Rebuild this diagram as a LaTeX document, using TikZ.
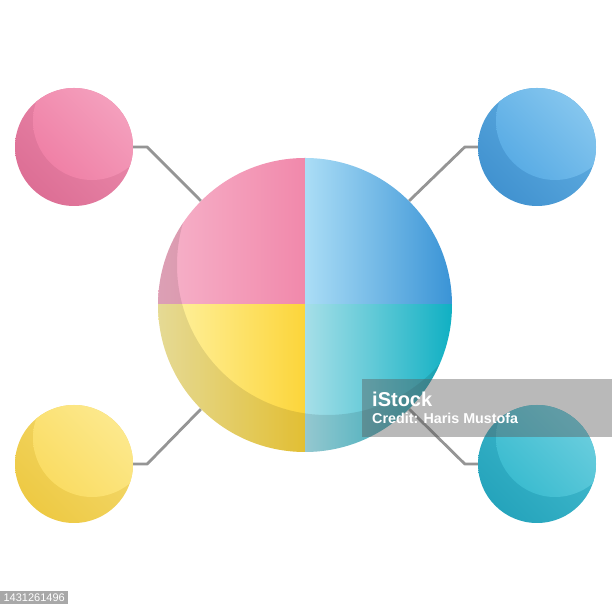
\documentclass[tikz,border=0pt]{standalone}
\usepackage{fontspec}
\setmainfont{Liberation Sans}
\usetikzlibrary{backgrounds,shadings}
\definecolor{pinkL}{HTML}{F6B3CA}
\definecolor{pinkR}{HTML}{EC5E8C}
\definecolor{blueL}{HTML}{ABDDF6}
\definecolor{blueR}{HTML}{3A94D6}
\definecolor{yelL}{HTML}{FFF3A6}
\definecolor{yelR}{HTML}{FCD53A}
\definecolor{tealL}{HTML}{A6DFE8}
\definecolor{tealR}{HTML}{10B0C3}
\definecolor{pSD}{HTML}{DA6890}\definecolor{pSL}{HTML}{EE93B2}
\definecolor{pID}{HTML}{EE78A0}\definecolor{pIL}{HTML}{F7B3CB}
\definecolor{bSD}{HTML}{3A8CCC}\definecolor{bSL}{HTML}{6BB6E6}
\definecolor{bID}{HTML}{4EA5E2}\definecolor{bIL}{HTML}{A0D6F4}
\definecolor{ySD}{HTML}{ECC63A}\definecolor{ySL}{HTML}{F5DD7A}
\definecolor{yID}{HTML}{F9D958}\definecolor{yIL}{HTML}{FEF0A6}
\definecolor{tSD}{HTML}{1E9FB8}\definecolor{tSL}{HTML}{4CC0D2}
\definecolor{tID}{HTML}{2FB7CC}\definecolor{tIL}{HTML}{86D8E6}
\definecolor{linkgray}{HTML}{959595}
\definecolor{idgray}{HTML}{A8A8A8}
\tikzset{
  ball/.style n args={4}{circle, inner sep=0pt, minimum size=118pt,
    path picture={
      \shade[lower left=#1, upper right=#2, upper left=#1!50!#2, lower right=#1!50!#2]
        (path picture bounding box.south west) rectangle (path picture bounding box.north east);
      \shade[lower left=#3, upper right=#4, upper left=#3!50!#4, lower right=#3!50!#4]
        ([shift={(18pt,26pt)}]path picture bounding box.center) circle (59pt);
    }},
  link/.style={draw=linkgray, line width=2.8pt, line join=round},
  wmtext/.style={anchor=base west, inner sep=0pt, text=white}
}
\begin{document}
\begin{tikzpicture}[x=1pt,y=1pt]
\useasboundingbox (0,0) rectangle (612,612);
% balls
\node[ball={pSD}{pSL}{pID}{pIL}] (pink) at (74,465) {};
\node[ball={bSD}{bSL}{bID}{bIL}] (blue) at (537,465) {};
\node[ball={ySD}{ySL}{yID}{yIL}] (yellow) at (74,148) {};
\node[ball={tSD}{tSL}{tID}{tIL}] (teal) at (537,148) {};
% main circle
\node[circle, inner sep=0pt, minimum size=294pt, path picture={
  \shade[left color=pinkL, right color=pinkR] (path picture bounding box.north west) rectangle (path picture bounding box.center);
  \shade[left color=blueL, right color=blueR] (path picture bounding box.north) rectangle (path picture bounding box.east);
  \shade[left color=yelL, right color=yelR] (path picture bounding box.west) rectangle (path picture bounding box.south);
  \shade[left color=tealL, right color=tealR] (path picture bounding box.center) rectangle (path picture bounding box.south east);
  \fill[black, opacity=0.1, even odd rule] (path picture bounding box.south west) rectangle (path picture bounding box.north east)
     ([shift={(22pt,40pt)}]path picture bounding box.center) circle (150pt);
}] (main) at (305,307) {};
\begin{scope}[on background layer]
  \fill[white] (0,0) rectangle (612,612);
  \draw[link] (pink.east) -- ++(14,0) -- (main.135);
  \draw[link] (blue.west) -- ++(-13,0) -- (main.45);
  \draw[link] (yellow.east) -- ++(14,0) -- (main.225);
  \draw[link] (teal.west) -- ++(-13,0) -- (main.315);
\end{scope}
% watermark
\fill[black!65, opacity=0.42] (362,175) rectangle (612,233);
\node[wmtext, font=\bfseries\fontsize{20}{20}\selectfont] (istock) at (372,205) {iStock};
\node[wmtext, font=\bfseries\fontsize{14.3}{15}\selectfont] (credit) at (372,188) {Credit: Haris Mustofa};
\node[fill=idgray, text=white, anchor=south west, inner sep=0pt, minimum width=68pt, minimum height=13pt,
      font=\fontsize{11}{11}\selectfont] (id) at (0,8) {1431261496};
\end{tikzpicture}
\end{document}
